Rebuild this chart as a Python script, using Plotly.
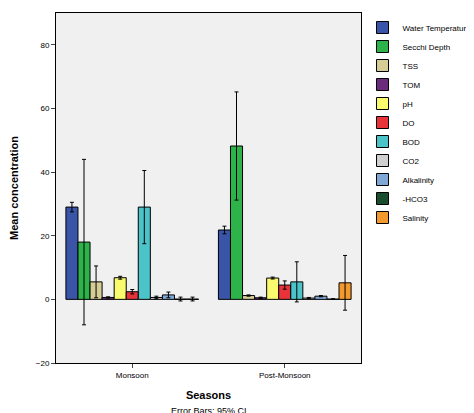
import plotly.graph_objects as go

seasons = ["Monsoon", "Post-Monsoon"]
params = ["Water Temperature", "Secchi Depth", "TSS", "TOM", "pH", "DO", "BOD", "CO2", "Alkalinity", "-HCO3", "Salinity"]
colors = ["#3a55a8", "#2db34a", "#d5cc96", "#6b2d7b", "#fafa6e", "#e8333a", "#4cc3c8", "#d0d0d0", "#7fa8d6", "#1a4d2e", "#f29a2e"]
means = {
    "Water Temperature": [29.0, 21.8],
    "Secchi Depth": [18.0, 48.2],
    "TSS": [5.5, 1.2],
    "TOM": [0.6, 0.5],
    "pH": [6.8, 6.7],
    "DO": [2.4, 4.5],
    "BOD": [29.0, 5.5],
    "CO2": [0.6, 0.4],
    "Alkalinity": [1.4, 1.0],
    "-HCO3": [0.1, 0.1],
    "Salinity": [0.1, 5.2],
}
ci = {
    "Water Temperature": [1.5, 1.2],
    "Secchi Depth": [26.0, 17.0],
    "TSS": [5.0, 0.2],
    "TOM": [0.2, 0.2],
    "pH": [0.45, 0.3],
    "DO": [0.7, 1.3],
    "BOD": [11.5, 6.3],
    "CO2": [0.4, 0.2],
    "Alkalinity": [0.9, 0.2],
    "-HCO3": [0.6, 0.1],
    "Salinity": [0.6, 8.6],
}

fig = go.Figure()
for p, c in zip(params, colors):
    fig.add_trace(go.Bar(
        name=p, x=seasons, y=means[p], marker=dict(color=c, line=dict(color="black", width=1)),
        error_y=dict(type="data", array=ci[p], color="black", thickness=1, width=2),
    ))

fig.update_layout(
    width=474, height=413, barmode="group", bargap=0.13, bargroupgap=0,
    plot_bgcolor="#f0f0f0", paper_bgcolor="white",
    margin=dict(l=48, r=116, t=5, b=58),
    font=dict(family="Liberation Sans, Arial", size=8, color="black"),
    legend=dict(x=1.005, y=1, xanchor="left", yanchor="top", font=dict(size=8),
                tracegroupgap=0, itemwidth=30, bgcolor="white"),
    xaxis=dict(title=dict(text="<b>Seasons</b>", font=dict(size=11), standoff=12),
               showline=True, linecolor="black", mirror=True, ticks="outside", ticklen=4),
    yaxis=dict(title=dict(text="<b>Mean concentration</b>", font=dict(size=11)),
               range=[-20, 90], tickvals=[-20, 0, 20, 40, 60, 80], showgrid=False, zeroline=False,
               showline=True, linecolor="black", mirror=True, ticks="outside", ticklen=4),
    annotations=[dict(text="Error Bars: 95% CI", x=0.5, y=-0.137, xref="paper", yref="paper",
                      yanchor="middle", showarrow=False, font=dict(size=9))],
)
fig.write_html("out.html")
